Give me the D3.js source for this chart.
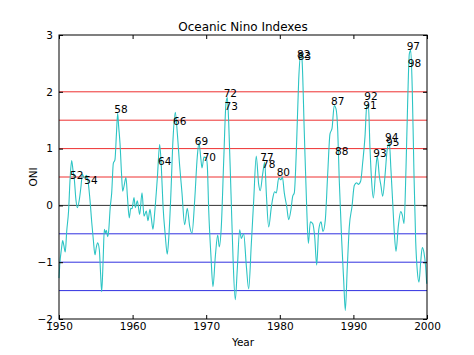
<!DOCTYPE html>
<html><head><meta charset="utf-8">
<script src="https://cdn.jsdelivr.net/npm/d3@7/dist/d3.min.js"></script>
<style>body{margin:0;background:#fff}svg{display:block}text{font-family:"DejaVu Sans",sans-serif}</style>
</head><body><svg id="c" width="474" height="355"></svg>
<script>
const years = [1950.00,1950.10,1950.35,1950.50,1950.65,1950.85,1951.05,1951.30,1951.50,1951.72,1951.90,1952.08,1952.30,1952.49,1952.76,1953.00,1953.17,1953.35,1953.53,1953.70,1953.85,1954.20,1954.45,1954.66,1954.89,1955.05,1955.25,1955.48,1955.65,1955.80,1956.00,1956.16,1956.30,1956.45,1956.60,1956.75,1956.95,1957.16,1957.38,1957.60,1957.80,1957.97,1958.10,1958.29,1958.50,1958.65,1958.85,1959.10,1959.30,1959.55,1959.75,1959.92,1960.19,1960.37,1960.64,1960.96,1961.28,1961.55,1961.86,1962.09,1962.36,1962.54,1962.77,1963.00,1963.36,1963.68,1963.90,1964.13,1964.44,1964.71,1964.90,1965.17,1965.49,1965.80,1966.07,1966.40,1966.71,1967.07,1967.43,1967.76,1968.07,1968.44,1968.79,1969.02,1969.25,1969.43,1969.70,1970.00,1970.15,1970.34,1970.65,1970.92,1971.24,1971.56,1971.78,1972.05,1972.38,1972.69,1972.87,1973.06,1973.37,1973.64,1973.95,1974.22,1974.55,1974.77,1975.09,1975.45,1975.77,1976.13,1976.45,1976.80,1977.13,1977.34,1977.67,1977.95,1978.17,1978.49,1978.85,1979.08,1979.30,1979.53,1979.85,1980.16,1980.35,1980.61,1980.94,1981.21,1981.52,1981.75,1981.97,1982.30,1982.57,1982.88,1983.02,1983.33,1983.65,1983.88,1984.15,1984.47,1984.74,1985.01,1985.29,1985.60,1985.87,1986.18,1986.51,1986.82,1987.09,1987.40,1987.64,1987.87,1988.08,1988.41,1988.68,1988.90,1989.17,1989.44,1989.81,1990.12,1990.44,1990.66,1990.99,1991.26,1991.58,1991.81,1992.03,1992.26,1992.49,1992.71,1993.07,1993.25,1993.52,1993.75,1993.98,1994.29,1994.60,1994.88,1995.10,1995.34,1995.56,1995.79,1996.10,1996.43,1996.65,1996.88,1997.15,1997.38,1997.60,1997.79,1998.00,1998.23,1998.46,1998.68,1998.91,1999.14,1999.36,1999.59,1999.82,1999.96];
const oni = [-1.28,-1.05,-0.75,-0.62,-0.70,-0.82,-0.45,-0.10,0.45,0.79,0.62,0.46,0.10,-0.04,0.10,0.35,0.55,0.50,0.48,0.53,0.50,0.11,-0.30,-0.60,-0.87,-0.75,-0.66,-0.78,-1.20,-1.52,-0.95,-0.42,-0.48,-0.44,-0.55,-0.45,-0.05,0.22,0.74,0.80,1.25,1.62,1.40,1.09,0.55,0.25,0.35,0.49,0.15,-0.22,-0.05,-0.06,0.14,-0.04,0.08,-0.16,0.22,-0.19,-0.10,-0.27,-0.07,-0.22,-0.42,-0.13,0.48,1.07,0.69,0.00,-0.53,-0.86,-0.60,0.10,1.16,1.64,1.28,0.69,0.22,-0.34,-0.05,-0.37,-0.49,0.10,0.86,1.10,0.85,0.66,0.85,0.84,0.70,-0.08,-0.90,-1.43,-0.90,-0.52,-0.73,-0.38,0.79,1.80,1.90,1.45,0.21,-0.90,-1.66,-1.13,-0.43,-0.58,-0.50,-1.06,-1.47,-0.68,0.08,0.87,0.37,0.26,0.55,0.76,0.21,-0.38,-0.03,0.15,0.24,0.22,0.48,0.45,0.50,0.22,-0.02,-0.25,-0.07,0.16,0.22,1.16,2.22,2.69,2.57,1.28,-0.02,-0.67,-0.29,-0.32,-0.55,-1.05,-0.43,-0.29,-0.46,-0.26,0.56,1.26,1.35,1.76,1.70,1.32,0.44,-0.62,-1.32,-1.85,-1.09,-0.38,-0.02,0.35,0.40,0.37,0.43,0.75,1.22,1.75,1.78,0.99,0.40,0.13,0.69,0.87,0.52,0.34,0.16,0.52,0.99,1.10,0.63,0.05,-0.48,-0.81,-0.37,-0.11,-0.17,-0.32,0.67,1.85,2.67,2.73,2.03,0.56,-0.62,-1.15,-1.35,-1.00,-0.74,-0.83,-1.09,-1.38];

const labelText = ["52","54","58","64","66","69","70","72","73","77","78","80","82","83","87","88","91","92","93","94","95","97","98"];
const labelX = [1951.50,1953.44,1957.51,1963.45,1965.49,1968.44,1969.52,1972.37,1972.50,1977.35,1977.58,1979.57,1982.34,1982.44,1986.96,1987.50,1991.35,1991.48,1992.70,1994.29,1994.43,1997.24,1997.38];
const labelY = [0.47,0.37,1.62,0.72,1.41,1.06,0.78,1.91,1.68,0.78,0.65,0.52,2.59,2.56,1.76,0.89,1.69,1.85,0.86,1.13,1.04,2.73,2.44];

const redLevels = [0.5, 1.0, 1.5, 2.0];
const blueLevels = [-0.5, -1.0, -1.5];
const zeroLevel = [0];
const xTicks = [1950, 1960, 1970, 1980, 1990, 2000];
const yTicks = [-2, -1, 0, 1, 2, 3];

const svg = d3.select("#c");
const L = 59, R = 427, T = 35, B = 319;
const x = d3.scaleLinear().domain([1950, 2000]).range([L, R]);
const y = d3.scaleLinear().domain([-2, 3]).range([B, T]);

function hl(levels, color) {
  svg.append("g").selectAll("line").data(levels).join("line")
    .attr("x1", L).attr("x2", R)
    .attr("y1", d => y(d)).attr("y2", d => y(d))
    .attr("stroke", color).attr("stroke-width", 1);
}
hl(redLevels, "#ee3030");
hl(blueLevels, "#3030e0");
hl(zeroLevel, "#333");

const line = d3.line().x((d, i) => x(years[i])).y(d => y(d)).curve(d3.curveMonotoneX);
svg.append("path").datum(oni).attr("d", line)
  .attr("fill", "none").attr("stroke", "#2cc4c4").attr("stroke-width", 1.1);

svg.append("g").selectAll("text").data(labelText).join("text")
  .attr("x", (d, i) => x(labelX[i])).attr("y", (d, i) => y(labelY[i]))
  .attr("font-size", 10.5).attr("fill", "#000").text(d => d);

// axes
const ax = svg.append("g").attr("transform", `translate(0,${B})`)
  .call(d3.axisBottom(x).tickValues(xTicks).tickFormat(d3.format("d")).tickSize(-4).tickPadding(4));
const axT = svg.append("g").attr("transform", `translate(0,${T})`)
  .call(d3.axisTop(x).tickValues(xTicks).tickFormat("").tickSize(-4));
const ay = svg.append("g").attr("transform", `translate(${L},0)`)
  .call(d3.axisLeft(y).tickValues(yTicks).tickFormat(d3.format("d")).tickSize(-4).tickPadding(6));
const ayR = svg.append("g").attr("transform", `translate(${R},0)`)
  .call(d3.axisRight(y).tickValues(yTicks).tickFormat("").tickSize(-4));
[ax, axT, ay, ayR].forEach(g => {
  g.select(".domain").remove();
  g.selectAll("text").attr("font-family", "DejaVu Sans").attr("font-size", 10.5).attr("fill", "#000");
  g.selectAll("line").attr("stroke", "#000");
});

svg.append("rect").attr("x", L).attr("y", T).attr("width", R - L).attr("height", B - T)
  .attr("fill", "none").attr("stroke", "#000").attr("stroke-width", 1);

svg.append("text").attr("x", (L + R) / 2).attr("y", 31).attr("text-anchor", "middle")
  .attr("font-size", 12).text("Oceanic Nino Indexes");
svg.append("text").attr("x", (L + R) / 2).attr("y", 346).attr("text-anchor", "middle")
  .attr("font-size", 10.5).text("Year");
svg.append("text").attr("transform", `translate(37,${(T + B) / 2}) rotate(-90)`).attr("text-anchor", "middle")
  .attr("font-size", 10.5).text("ONI");
</script></body></html>
